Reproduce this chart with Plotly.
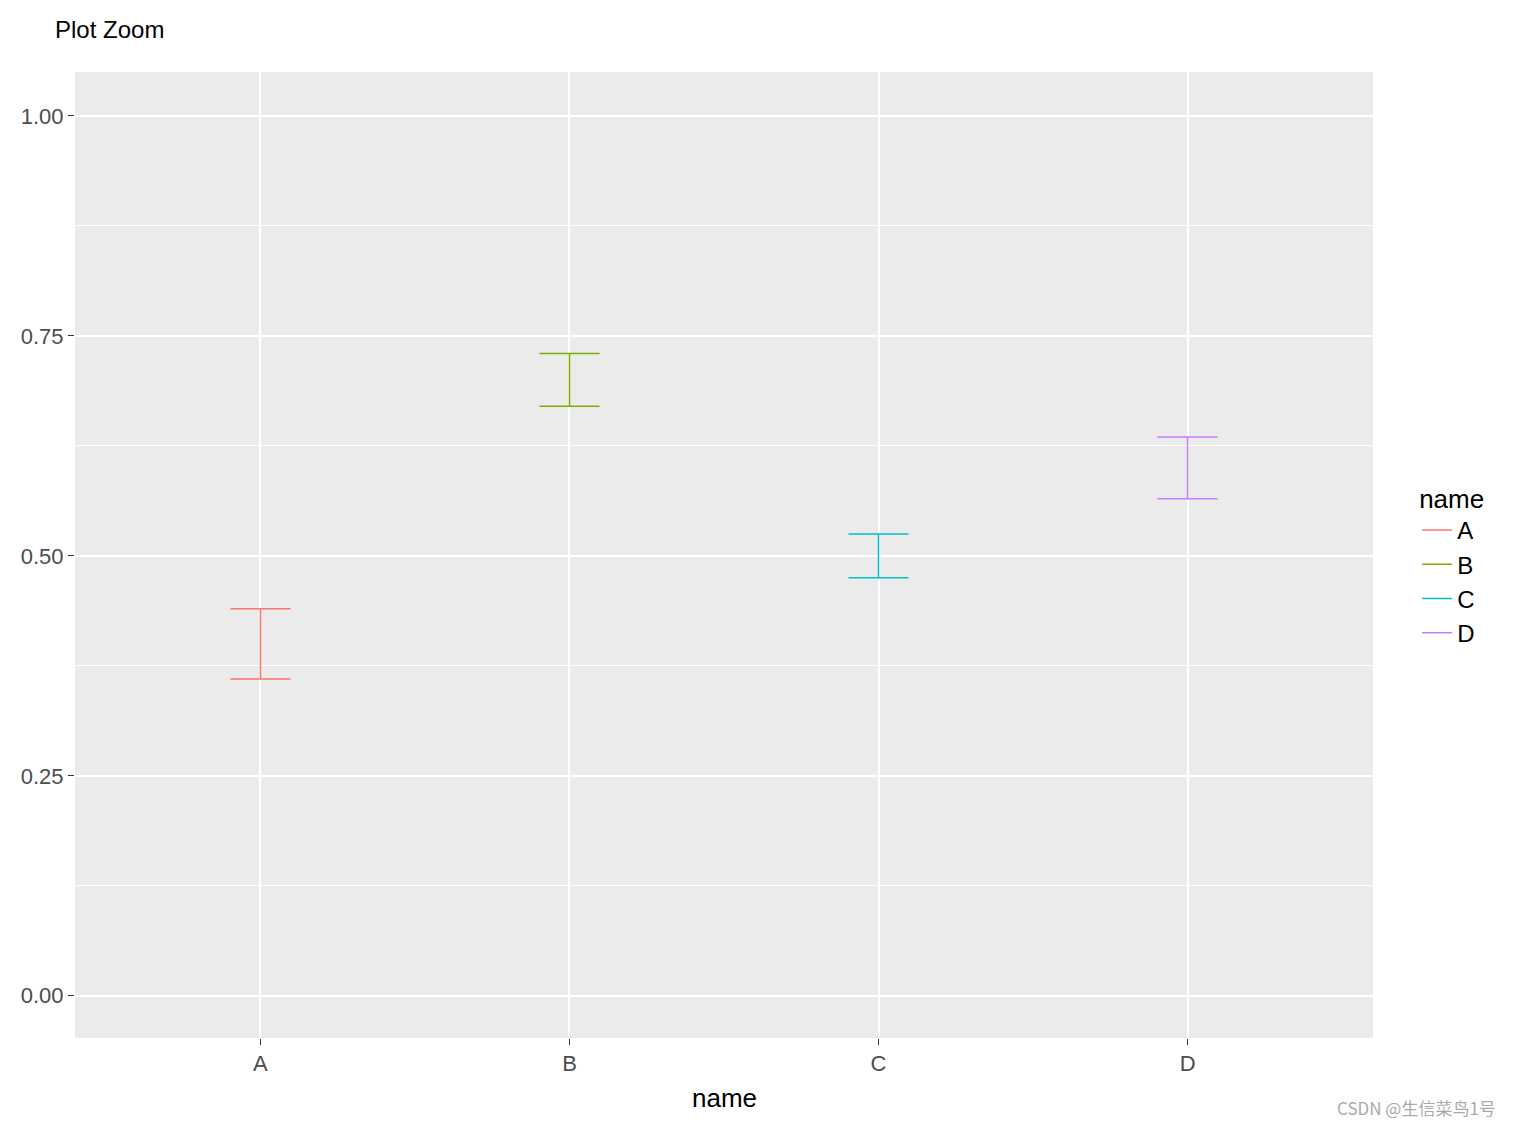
import plotly.graph_objects as go

names = ['A', 'B', 'C', 'D']
lower = [0.36, 0.67, 0.475, 0.565]
upper = [0.44, 0.73, 0.525, 0.635]
colors = ['#F8766D', '#7CAE00', '#00BFC4', '#C77CFF']

fig = go.Figure()
for n, lo, hi, c in zip(names, lower, upper, colors):
    mid = (lo + hi) / 2
    fig.add_trace(go.Scatter(
        x=[n], y=[mid], mode='lines', name=n,
        line=dict(color=c, width=1.5),
        error_y=dict(type='data', array=[hi - mid], color=c, thickness=1.5, width=30),
        hoverinfo='skip'
    ))

fig.update_layout(
    width=1510, height=1112,
    paper_bgcolor='white', plot_bgcolor='#EBEBEB',
    margin=dict(l=67, r=145, t=64, b=82),
    font=dict(family='Liberation Sans, Arial', color='#4D4D4D', size=21),
    legend=dict(title=dict(text='name', font=dict(size=26, color='black')),
                x=1.034, xanchor='left', y=0.49, yanchor='middle',
                font=dict(size=24, color='black'), bgcolor='white', tracegroupgap=0),
    annotations=[
        dict(text='Plot Zoom', x=-0.017, y=1.0445, xref='paper', yref='paper', showarrow=False,
             font=dict(size=24, color='black'), xanchor='left', yanchor='middle'),
        dict(text='name', x=0.5, y=-0.045, xref='paper', yref='paper', showarrow=False,
             font=dict(size=26, color='black'), yanchor='top'),
        dict(text='CSDN @生信菜鸟1号', x=1.096, y=-0.072, xref='paper', yref='paper', showarrow=False,
             font=dict(size=17, color='#AAAAAA', family='Noto Sans CJK SC'), xanchor='right', yanchor='middle'),
    ]
)

fig.update_xaxes(range=[-0.6, 3.6], showgrid=True, gridcolor='white', gridwidth=2,
                 ticks='outside', ticklen=6, tickcolor='#333333', zeroline=False,
                 tickfont=dict(size=22, color='#4D4D4D'))
fig.update_yaxes(range=[-0.048, 1.05], tickvals=[0, 0.25, 0.5, 0.75, 1.0],
                 ticktext=['0.00', '0.25', '0.50', '0.75', '1.00'],
                 showgrid=True, gridcolor='white', gridwidth=2, zeroline=False,
                 ticks='outside', ticklen=6, tickcolor='#333333',
                 minor=dict(tickvals=[0.125, 0.375, 0.625, 0.875], showgrid=True,
                            gridcolor='white', gridwidth=1, ticks=''),
                 tickfont=dict(size=22, color='#4D4D4D'))

fig.write_html('out.html')
